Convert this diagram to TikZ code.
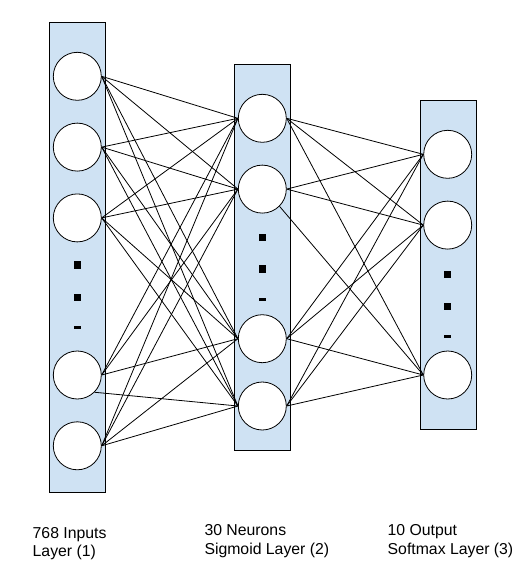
\documentclass[tikz,border=0pt]{standalone}
\usepackage{fontspec}
\setmainfont{Liberation Sans}
\usepackage{tikz}
\usetikzlibrary{positioning}
\definecolor{layerblue}{HTML}{CFE2F3}
\tikzset{
  layer box/.style={
    fill=layerblue,
    draw=black,
    line width=0.8pt,
    minimum width=56pt,
    minimum height={#1},
    inner sep=0pt,
  },
  neuron/.style={
    circle,
    fill=white,
    draw=black,
    line width=0.8pt,
    minimum size=48pt,
    inner sep=0pt,
  },
  dot mark/.style={
    fill=black,
    minimum width=7.5pt,
    minimum height={#1},
    inner sep=0pt,
  },
  link/.style={
    line width=0.8pt,
  },
  layer label/.style={
    anchor=base west,
    align=left,
    inner sep=0pt,
    font=\fontsize{15.8}{18.5}\selectfont,
  }
}

\begin{document}
\begin{tikzpicture}[x=1pt, y=-1pt, node distance=22pt]
        \useasboundingbox (0,0) rectangle (527,574);

        \node [layer box=469.7pt] (lbox) at (77.3,257.2) {};
        \node [layer box=385.7pt] (mbox) at (262.3,257.2) {};
        \node [layer box=329.3pt] (obox) at (448,264.7) {};

        % input layer
        \node [neuron] (l1) at (77.3,76.3) {};
        \node [neuron, below=of l1] (l2) {};
        \node [neuron, below=of l2] (l3) {};
        \node [neuron] (l4) at (77.3,375) {};
        \node [neuron, below=of l4] (l5) {};
        \node [dot mark=7.5pt] (ldot1) at (77.3,265) {};
        \node [dot mark=7.5pt] (ldot2) at (77.3,297.7) {};
        \node [dot mark=3.5pt] (ldash) at (77.3,327.3) {};

        % hidden layer
        \node [neuron] (m1) at (262.3,118.3) {};
        \node [neuron, below=of m1] (m2) {};
        \node [neuron] (m3) at (262.3,338.7) {};
        \node [neuron, below=18.5pt of m3] (m4) {};
        \node [dot mark=7.5pt] (mdot1) at (262.3,237.3) {};
        \node [dot mark=7.5pt] (mdot2) at (262.3,269) {};
        \node [dot mark=3.5pt] (mdash) at (262.3,299.3) {};

        % output layer
        \node [neuron] (o1) at (447.7,154.3) {};
        \node [neuron, below=of o1] (o2) {};
        \node [neuron] (o3) at (447.7,375) {};
        \node [dot mark=7.5pt] (odot1) at (447.7,274.3) {};
        \node [dot mark=7.5pt] (odot2) at (447.7,306.7) {};
        \node [dot mark=3.5pt] (odash) at (447.7,336.7) {};

        \foreach \a in {1,2,3,5}
          \foreach \b in {1,...,4}
            \draw [link] (l\a.east) -- (m\b.west);
        \foreach \b in {1,2,3}
          \draw [link] (l4.east) -- (m\b.west);
        \draw [link] (l4.-45) -- (m4.west);

        \foreach \a in {1,3,4}
          \foreach \b in {1,2,3}
            \draw [link] (m\a.east) -- (o\b.west);
        \draw [link] (m2.east) -- (o1.west);
        \draw [link] (m2.east) -- (o2.west);
        \draw [link] (m2.south east) -- (o3.west);

        \node [layer label] (llabel) at (32.5,556.7) {768 Inputs\\Layer (1)};
        \node [layer label] (mlabel) at (204.3,554.3) {30 Neurons\\Sigmoid Layer (2)};
        \node [layer label] (olabel) at (387.5,554.3) {10 Output\\Softmax Layer (3)};
    \end{tikzpicture}
\end{document}
